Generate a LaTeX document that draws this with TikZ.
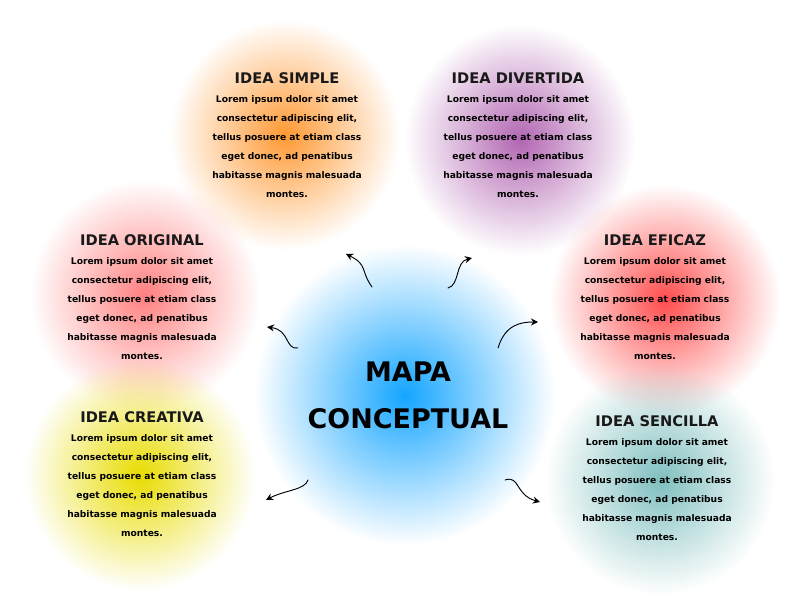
\documentclass[tikz,border=0pt]{standalone}
\usepackage{fontspec}
\setmainfont{DejaVu Sans}
\usetikzlibrary{positioning,calc,arrows.meta,fadings}
\tikzfading[name=glow,inner color=transparent!0,outer color=transparent!100]
\definecolor{skyblue}{RGB}{20,165,255}
\tikzstyle{blob}  =[circle,minimum size=0pt,inner sep=0pt]
\tikzstyle{idea}  =[align=center,font=\fontsize{7.8}{16.3}\selectfont\bfseries]
\tikzstyle{title} =[font=\fontsize{12.5}{14}\selectfont\bfseries,text=black!90]
\tikzstyle{curl}  =[thick,-{Stealth[length=6pt,width=6pt]},line cap=round]
\newcommand{\lorem}{Lorem ipsum dolor sit amet\\consectetur adipiscing elit,\\tellus posuere at etiam class\\eget donec, ad penatibus\\habitasse magnis malesuada\\montes.}
\begin{document}
\begin{tikzpicture}[x=0.03cm,y=-0.03cm]
\useasboundingbox (0,0) rectangle (800,600);
% blurred discs
\fill[skyblue,path fading=glow] (405,395) circle (150);
\fill[orange!80,path fading=glow] (285,135) circle (115);
\fill[violet!60,path fading=glow] (520,140) circle (115);
\fill[red!50,path fading=glow] (145,295) circle (115);
\fill[red!70,path fading=glow] (665,300) circle (115);
\fill[yellow!80!olive,path fading=glow] (140,475) circle (115);
\fill[teal!50,path fading=glow] (660,480) circle (115);
% centre
\node [blob,align=center,font=\fontsize{23}{40}\selectfont\bfseries] (c) at (408,395) {MAPA\\CONCEPTUAL};
% ideas
\node [title] (t1) at (287,78) {IDEA SIMPLE};
\node [idea,below=3pt of t1] (i1) {\lorem};
\node [title] (t2) at (518,78) {IDEA DIVERTIDA};
\node [idea,below=3pt of t2] (i2) {\lorem};
\node [title] (t3) at (142,240) {IDEA ORIGINAL};
\node [idea,below=3pt of t3] (i3) {\lorem};
\node [title] (t4) at (655,240) {IDEA EFICAZ};
\node [idea,below=3pt of t4] (i4) {\lorem};
\node [title] (t5) at (142,417) {IDEA CREATIVA};
\node [idea,below=3pt of t5] (i5) {\lorem};
\node [title] (t6) at (657,421) {IDEA SENCILLA};
\node [idea,below=3pt of t6] (i6) {\lorem};
% arrows
\coordinate (a1) at (372,287); \coordinate (b1) at (346,254);
\coordinate (a2) at (448,288); \coordinate (b2) at (472,258);
\coordinate (a3) at (498,348); \coordinate (b3) at (538,322);
\coordinate (a4) at (505,480); \coordinate (b4) at (540,502);
\coordinate (a5) at (308,480); \coordinate (b5) at (266,500);
\coordinate (a6) at (298,348); \coordinate (b6) at (267,327);
\draw [curl] (a1) .. controls (360,270) and (368,265) .. (b1);
\draw [curl] (a2) .. controls (460,285) and (455,262) .. (b2);
\draw [curl] (a3) .. controls (505,325) and (520,322) .. (b3);
\draw [curl] (a4) .. controls (520,475) and (515,495) .. (b4);
\draw [curl] (a5) .. controls (305,490) and (285,490) .. (b5);
\draw [curl] (a6) .. controls (285,350) and (290,330) .. (b6);
\end{tikzpicture}
\end{document}
